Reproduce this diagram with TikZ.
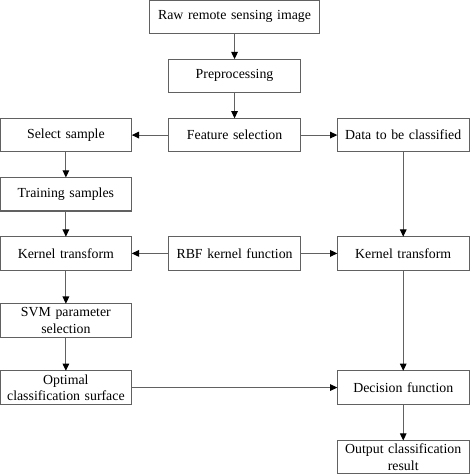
\documentclass[tikz,border=0pt]{standalone}
\usepackage{fontspec}
\setmainfont{Liberation Serif}
\usetikzlibrary{matrix, arrows.meta}

\colorlet{linegray}{black!62}

\begin{document}
\begin{tikzpicture}[
      font = \fontsize{10.5}{12.5}\selectfont,
      > = {Triangle[length = 5.5pt, width = 5pt, color = black]},
      box/.style = {
        rectangle,
        draw = linegray, line width = .8pt,
        align = center,
        text width = 94pt,
        inner xsep = 3pt,
        inner ysep = 1pt,
        minimum height = 25.4pt,
        outer sep = 0,
      },
      wide/.style = {
        box,
        text width = 123pt,
      },
    ]
    \matrix[row sep = 18.7pt, column sep = 12.7pt]{
      & \node[wide] (raw) {Raw remote sensing image}; & \\
      & \node[box] (pre) {Preprocessing}; & \\
      \node[box] (ss) {Select sample}; & \node[box] (fsel) {Feature selection}; & \node[box] (dtc) {Data to be classified}; \\
      \node[box] (ts) {Training samples}; & & \\
      \node[box] (klt) {Kernel transform}; & \node[box] (rbf) {RBF kernel function}; & \node[box] (krt) {Kernel transform}; \\[6pt]
      \node[box] (svm) {SVM parameter\\ selection}; & & \\[6pt]
      \node[box] (ocs) {Optimal\\ classification surface}; & & \node[box] (df) {Decision function}; \\[8pt]
      & & \node[box] (ocr) {Output classification\\ result}; \\
    };

    \begin{scope}[line width = .8pt, linegray, ->]
      \draw (raw) -- (pre);
      \draw (pre) -- (fsel);

      \draw (fsel) -- (ss);
      \draw (fsel) -- (dtc);

      \draw (ss) -- (ts);
      \draw (ts) -- (klt);
      \draw (dtc) -- (krt);

      \draw (rbf) -- (klt);
      \draw (rbf) -- (krt);

      \draw (klt) -- (svm);
      \draw (svm) -- (ocs);
      \draw (krt) -- (df);

      \draw (ocs) -- (df);
      \draw (df) -- (ocr);
    \end{scope}

    \pgfresetboundingbox
    \useasboundingbox (ss.west |- raw.north) rectangle (dtc.east |- ocr.south);
  \end{tikzpicture}
\end{document}
